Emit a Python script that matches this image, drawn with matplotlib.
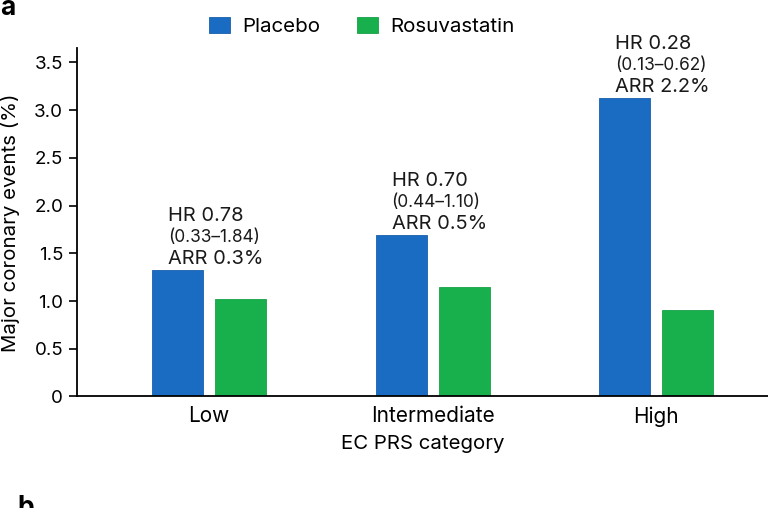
import numpy as np
import matplotlib
matplotlib.use('Agg')
import matplotlib.pyplot as plt

plt.rcParams['font.family'] = ['Inter', 'DejaVu Sans']

categories = ['Low', 'Intermediate', 'High']
placebo = [1.33, 1.69, 3.13]
rosuvastatin = [1.02, 1.15, 0.91]
hr_text = ['HR 0.78', 'HR 0.70', 'HR 0.28']
ci_text = ['(0.33\u20131.84)', '(0.44\u20131.10)', '(0.13\u20130.62)']
arr_text = ['ARR 0.3%', 'ARR 0.5%', 'ARR 2.2%']

blue = '#1a6cc2'
green = '#18b04c'

fig = plt.figure(figsize=(7.68, 5.08), dpi=100)
ax = fig.add_axes([0.1003, 0.2195, 0.8997, 0.686])

x = np.arange(len(categories))
w = 0.228
off = 0.141
b1 = ax.bar(x - off, placebo, w, color=blue, edgecolor='#1760ad', linewidth=0.6, label='Placebo')
b2 = ax.bar(x + off, rosuvastatin, w, color=green, edgecolor='#16a046', linewidth=0.6, label='Rosuvastatin')

# annotations above the placebo bars
for i in range(len(categories)):
    xl = x[i] - off - w / 2
    for txt, dy, fs in [(arr_text[i], 6, 14.4), (ci_text[i], 28, 12.4), (hr_text[i], 49, 14.4)]:
        ax.annotate(txt, xy=(xl, placebo[i]), xytext=(16, dy), textcoords='offset pixels',
                    ha='left', va='baseline', fontsize=fs, color='#1a1a1a')

ax.set_xlim(-0.59, 2.50)
ax.set_ylim(0, 3.65)
ax.set_yticks([0, 0.5, 1.0, 1.5, 2.0, 2.5, 3.0, 3.5])
ax.set_yticklabels(['0', '0.5', '1.0', '1.5', '2.0', '2.5', '3.0', '3.5'])
ax.set_xticks(x)
ax.set_xticklabels(categories)
ax.tick_params(axis='x', length=0, pad=7, labelsize=15)
ax.tick_params(axis='y', length=6, width=1.2, pad=4, labelsize=13.5)
ax.spines['top'].set_visible(False)
ax.spines['right'].set_visible(False)
ax.spines['left'].set_linewidth(1.3)
ax.spines['bottom'].set_linewidth(1.3)
ax.set_ylabel('Major coronary events (%)', fontsize=14.7)
ax.yaxis.set_label_coords(-0.082, 0.5)
ax.set_xlabel('EC PRS category', fontsize=14.7, labelpad=6)

fig.legend(handles=[b1, b2], loc='center', bbox_to_anchor=(0.471, 0.948), ncol=2,
           frameon=False, fontsize=14.8, handlelength=1.0, handleheight=0.85,
           handletextpad=0.6, columnspacing=1.8)

fig.text(0.0, 1 - 15 / 508, 'a', fontsize=19, fontweight='bold', ha='left', va='baseline')
fig.text(0.022, 0.0, 'b', fontsize=19, fontweight='bold', ha='left', va='center')

fig.savefig('out.png', dpi=100)
